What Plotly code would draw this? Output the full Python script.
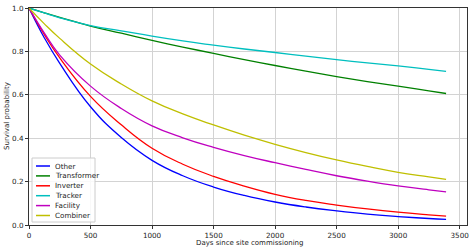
import plotly.graph_objects as go

days = [0, 125, 250, 500, 750, 1000, 1250, 1500, 1750, 2000, 2250, 2500, 2750, 3000, 3250, 3390]
other = [1.0, 0.862, 0.745, 0.545, 0.403, 0.298, 0.227, 0.175, 0.136, 0.106, 0.083, 0.065, 0.050, 0.039, 0.030, 0.026]
transformer = [1.0, 0.978, 0.957, 0.917, 0.884, 0.851, 0.820, 0.791, 0.762, 0.735, 0.709, 0.684, 0.661, 0.640, 0.618, 0.606]
inverter = [1.0, 0.877, 0.770, 0.593, 0.462, 0.354, 0.280, 0.224, 0.179, 0.141, 0.113, 0.092, 0.074, 0.059, 0.047, 0.041]
tracker = [1.0, 0.977, 0.955, 0.919, 0.895, 0.870, 0.848, 0.829, 0.811, 0.795, 0.778, 0.762, 0.747, 0.733, 0.717, 0.708]
facility = [1.0, 0.884, 0.783, 0.640, 0.537, 0.457, 0.402, 0.358, 0.320, 0.287, 0.256, 0.227, 0.202, 0.180, 0.162, 0.153]
combiner = [1.0, 0.927, 0.860, 0.742, 0.650, 0.572, 0.512, 0.461, 0.414, 0.372, 0.334, 0.300, 0.270, 0.243, 0.222, 0.210]

series = [
    ("Other", other, "#0000ff"),
    ("Transformer", transformer, "#008000"),
    ("Inverter", inverter, "#ff0000"),
    ("Tracker", tracker, "#00bfbf"),
    ("Facility", facility, "#bf00bf"),
    ("Combiner", combiner, "#bfbf00"),
]

fig = go.Figure()
for name, vals, col in series:
    fig.add_trace(go.Scatter(x=days, y=vals, mode="lines", name=name, showlegend=False,
                             line=dict(color=col, width=1.3, shape="spline", smoothing=1.3)))

axis_common = dict(showline=True, linecolor="#333333", linewidth=1, mirror=True,
                   showgrid=True, gridcolor="#d3d3d3", gridwidth=1,
                   ticks="outside", ticklen=3, tickcolor="#333333",
                   zeroline=False, automargin=False,
                   tickfont=dict(size=7.2, color="#222222"))

L, R, T, B = 29, 7, 8, 25
W, H = 474, 250
pw, ph = W - L - R, H - T - B

fig.update_layout(
    width=W, height=H,
    margin=dict(l=L, r=R, t=T, b=B),
    paper_bgcolor="white", plot_bgcolor="white",
    font=dict(family="DejaVu Sans", size=7.2, color="#222222"),
    xaxis=dict(range=[0, 3560], tickvals=[0, 500, 1000, 1500, 2000, 2500, 3000, 3500],
               **axis_common),
    yaxis=dict(range=[0, 1], tickvals=[0, 0.2, 0.4, 0.6, 0.8, 1.0], tickformat=".1f",
               **axis_common),
    showlegend=False,
)

def px(xp):
    return (xp - L) / pw

def py(yp):
    return (H - B - yp) / ph

# axis titles
fig.add_annotation(text="Days since site commissioning", xref="paper", yref="paper",
                   x=px(249), y=py(243), showarrow=False, font=dict(size=7),
                   xanchor="center", yanchor="middle")
fig.add_annotation(text="Survival probability", xref="paper", yref="paper",
                   x=px(7), y=py(116), showarrow=False, font=dict(size=7), textangle=-90,
                   xanchor="center", yanchor="middle")

# manual legend (compact, like matplotlib)
fig.add_shape(type="rect", xref="paper", yref="paper",
              x0=px(32), x1=px(95), y0=py(222), y1=py(158),
              line=dict(color="#cccccc", width=1), fillcolor="rgba(255,255,255,0.85)", layer="above")
for i, (name, vals, col) in enumerate(series):
    yy = 166 + i * 9.9
    fig.add_shape(type="line", xref="paper", yref="paper",
                  x0=px(36), x1=px(50), y0=py(yy), y1=py(yy),
                  line=dict(color=col, width=1.5), layer="above")
    fig.add_annotation(text=name, xref="paper", yref="paper", x=px(53), y=py(yy),
                       showarrow=False, xanchor="left", yanchor="middle",
                       font=dict(size=7.2, color="#222222"))

fig.write_html("out.html")
